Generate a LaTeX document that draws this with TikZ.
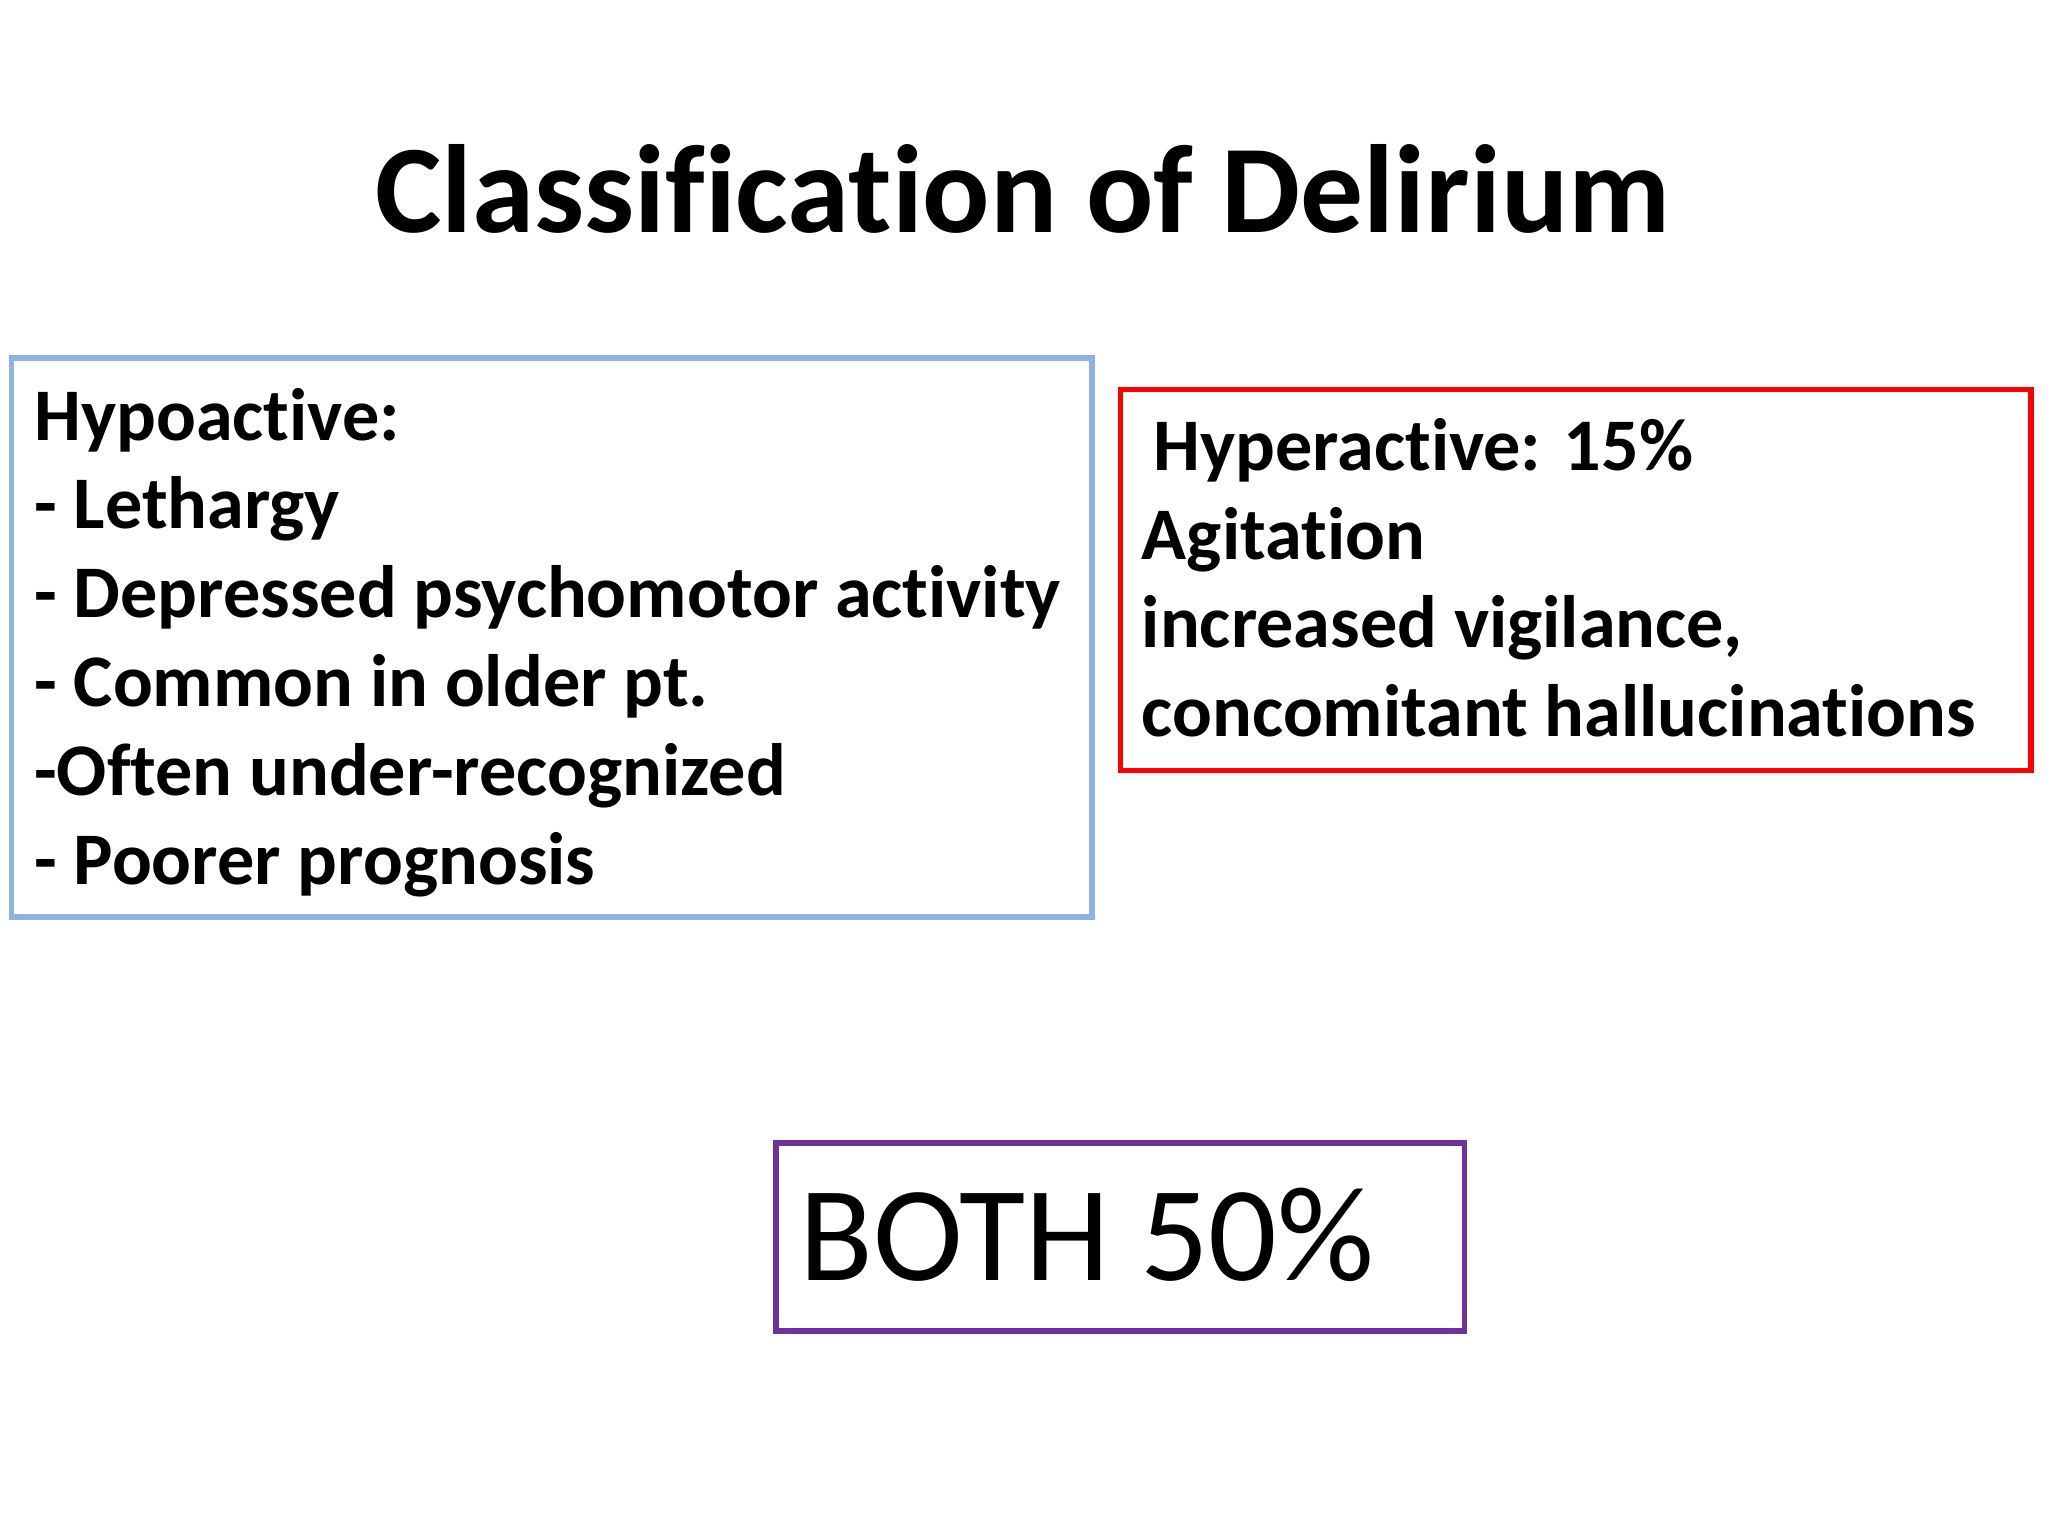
\documentclass[tikz,border=0pt]{standalone}
\usepackage{fontspec}
\setmainfont{Carlito}[RawFeature={-liga;-dlig}]
\begin{document}
\begin{tikzpicture}[x=0.03cm,y=-0.03cm,
  body/.style={anchor=base west,inner sep=0,font=\bfseries\fontsize{48.5}{58}\selectfont},
  frame/.style={line width=3.5pt}]
\useasboundingbox (0,0) rectangle (1568,1176);
\fill[white] (0,0) rectangle (1568,1176);
\node[anchor=base,inner sep=0,font=\bfseries\fontsize{82}{98}\selectfont] (title) at (783,178) {Classification of Delirium};
\draw[frame,color={rgb,255:red,141;green,179;blue,226}] (9,274) rectangle (836,702);
\draw[frame,red] (858,298) rectangle (1555,590);
\draw[frame,color={rgb,255:red,112;green,48;blue,160}] (594,875) rectangle (1121,1019);
\node[body] (a1) at (26,337) {Hypoactive:};
\node[body] (a2) at (26,405) {- Lethargy};
\node[body] (a3) at (26,473) {- Depressed psychomotor activity};
\node[body] (a4) at (26,541) {- Common in older pt.};
\node[body] (a5) at (26,609) {-Often under-recognized};
\node[body] (a6) at (26,677) {- Poorer prognosis};
\node[body] (b1) at (883,360) {Hyperactive: 15\%};
\node[body] (b2) at (874,428) {Agitation};
\node[body] (b3) at (874,496) {increased vigilance,};
\node[body] (b4) at (874,564) {concomitant hallucinations};
\node[anchor=base west,inner sep=0,font=\fontsize{88.5}{106}\selectfont] (both) at (612,980) {BOTH 50\%};
\end{tikzpicture}
\end{document}
